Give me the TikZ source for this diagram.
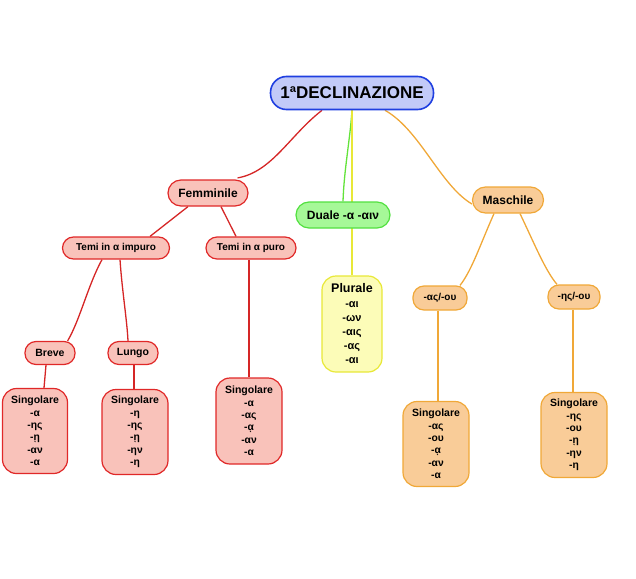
\documentclass[tikz,border=0pt]{standalone}
\usepackage{fontspec}
\setmainfont{Liberation Sans}
\usetikzlibrary{backgrounds}
\definecolor{rootfill}{HTML}{C2CAF8}
\definecolor{rootdraw}{HTML}{1F3FE0}
\definecolor{redfill}{HTML}{F9C2BA}
\definecolor{reddraw}{HTML}{E02828}
\definecolor{greenfill}{HTML}{A6F898}
\definecolor{greendraw}{HTML}{52E040}
\definecolor{yelfill}{HTML}{FCFCB8}
\definecolor{yeldraw}{HTML}{E8E838}
\definecolor{orfill}{HTML}{F9CC98}
\definecolor{ordraw}{HTML}{F0A838}
\tikzset{
  box/.style={draw, line width=1.2pt, inner sep=0pt, align=center, font=\bfseries},
  rootbox/.style={box, fill=rootfill, draw=rootdraw, line width=1.6pt, rounded corners=16pt, minimum width=163pt, minimum height=33pt, font=\bfseries\fontsize{17}{20}\selectfont},
  redbox/.style={box, fill=redfill, draw=reddraw},
  greenbox/.style={box, fill=greenfill, draw=greendraw},
  yelbox/.style={box, fill=yelfill, draw=yeldraw},
  orbox/.style={box, fill=orfill, draw=ordraw},
  big/.style={rounded corners=13pt, minimum height=26pt, font=\bfseries\fontsize{12}{14}\selectfont},
  mid/.style={rounded corners=11pt, minimum height=23pt, font=\bfseries\fontsize{10}{12}\selectfont},
  tall/.style={rounded corners=14pt, minimum width=66pt, minimum height=85pt, font=\bfseries\fontsize{10.3}{12.4}\selectfont},
  link/.style={line width=1.3pt},
  redlink/.style={link, draw=reddraw!95!black},
  greenlink/.style={link, draw=greendraw!90!yellow},
  yellink/.style={link, draw=yeldraw},
  orlink/.style={link, draw=ordraw},
}
\begin{document}
\begin{tikzpicture}[x=1pt,y=-1pt]
\useasboundingbox (0,0) rectangle (636,578);
\node[rootbox] (root) at (352,93) {1ªDECLINAZIONE};
\node[redbox,big,minimum width=80pt] (fem) at (208,193) {Femminile};
\node[greenbox,big,minimum width=94pt] (duale) at (343,215) {Duale -α -αιν};
\node[orbox,big,minimum width=71pt] (masch) at (508,200) {Maschile};
\node[redbox,mid,minimum width=107pt,minimum height=22pt] (impuro) at (116,248) {Temi in α impuro};
\node[redbox,mid,minimum width=90pt,minimum height=22pt] (puro) at (251,248) {Temi in α puro};
\node[yelbox,rounded corners=14pt,minimum width=60pt,minimum height=96pt,font=\bfseries\fontsize{11}{14.2}\selectfont] (plur) at (352,324) {{\fontsize{12.5}{14.2}\selectfont Plurale}\\-αι\\-ων\\-αις\\-ας\\-αι};
\node[orbox,mid,minimum width=54pt,minimum height=24pt] (as) at (440,298) {-ας/-ου};
\node[orbox,mid,minimum width=52pt,minimum height=24pt] (es) at (574,297) {-ης/-ου};
\node[redbox,mid,minimum width=50pt,font=\bfseries\fontsize{10.5}{12}\selectfont] (breve) at (50,353) {Breve};
\node[redbox,mid,minimum width=50pt,font=\bfseries\fontsize{10.5}{12}\selectfont] (lungo) at (133,353) {Lungo};
\node[redbox,tall,minimum width=65pt] (s1) at (35,431) {{\fontsize{10.5}{12.4}\selectfont Singolare}\\-α\\-ης\\-ῃ\\-αν\\-α};
\node[redbox,tall] (s2) at (135,432) {{\fontsize{10.5}{12.4}\selectfont Singolare}\\-η\\-ης\\-ῃ\\-ην\\-η};
\node[redbox,tall,minimum height=86pt] (s3) at (249,421) {{\fontsize{10.5}{12.4}\selectfont Singolare}\\-α\\-ας\\-ᾳ\\-αν\\-α};
\node[orbox,tall] (s4) at (436,444) {{\fontsize{10.5}{12.4}\selectfont Singolare}\\-ας\\-ου\\-ᾳ\\-αν\\-α};
\node[orbox,tall] (s5) at (574,435) {{\fontsize{10.5}{12.4}\selectfont Singolare}\\-ης\\-ου\\-ῃ\\-ην\\-η};
\begin{pgfonlayer}{background}
\draw[redlink] ([xshift=-30pt]root.south) .. controls (290,135) and (272,172) .. ([xshift=-11pt,yshift=1.5pt]fem.north east);
\draw[greenlink] (root.south) .. controls (350,140) and (344,170) .. (duale.north);
\draw[yellink] (root.south) -- (plur.north);
\draw[orlink] ([xshift=33pt]root.south) .. controls (420,130) and (440,185) .. ([yshift=-4pt]masch.west);
\draw[redlink] ([xshift=-20pt]fem.south) -- ([xshift=34pt]impuro.north);
\draw[redlink] ([xshift=13pt]fem.south) -- ([xshift=-15pt]puro.north);
\draw[redlink] ([xshift=-14pt]impuro.south) .. controls (88,285) and (80,320) .. ([xshift=-8pt]breve.north east);
\draw[redlink] ([xshift=4pt]impuro.south) .. controls (122,290) and (127,320) .. ([xshift=-5pt]lungo.north);
\draw[redlink] ([xshift=-2pt]puro.south) -- ([xshift=-2pt]puro.south |- s3.north);
\draw[redlink] ([xshift=-4pt]breve.south) -- ([xshift=9pt]s1.north);
\draw[redlink] ([xshift=1pt]lungo.south) -- ([xshift=-1pt]s2.north);
\draw[orlink] ([xshift=-14pt]masch.south) .. controls (480,245) and (472,270) .. ([xshift=20pt]as.north);
\draw[orlink] ([xshift=12pt]masch.south) .. controls (535,245) and (545,270) .. ([xshift=-17pt]es.north);
\draw[orlink] ([xshift=-2pt]as.south) -- ([xshift=-2pt]as.south |- s4.north);
\draw[orlink] ([xshift=-1pt]es.south) -- ([xshift=-1pt]es.south |- s5.north);
\end{pgfonlayer}
\end{tikzpicture}
\end{document}
